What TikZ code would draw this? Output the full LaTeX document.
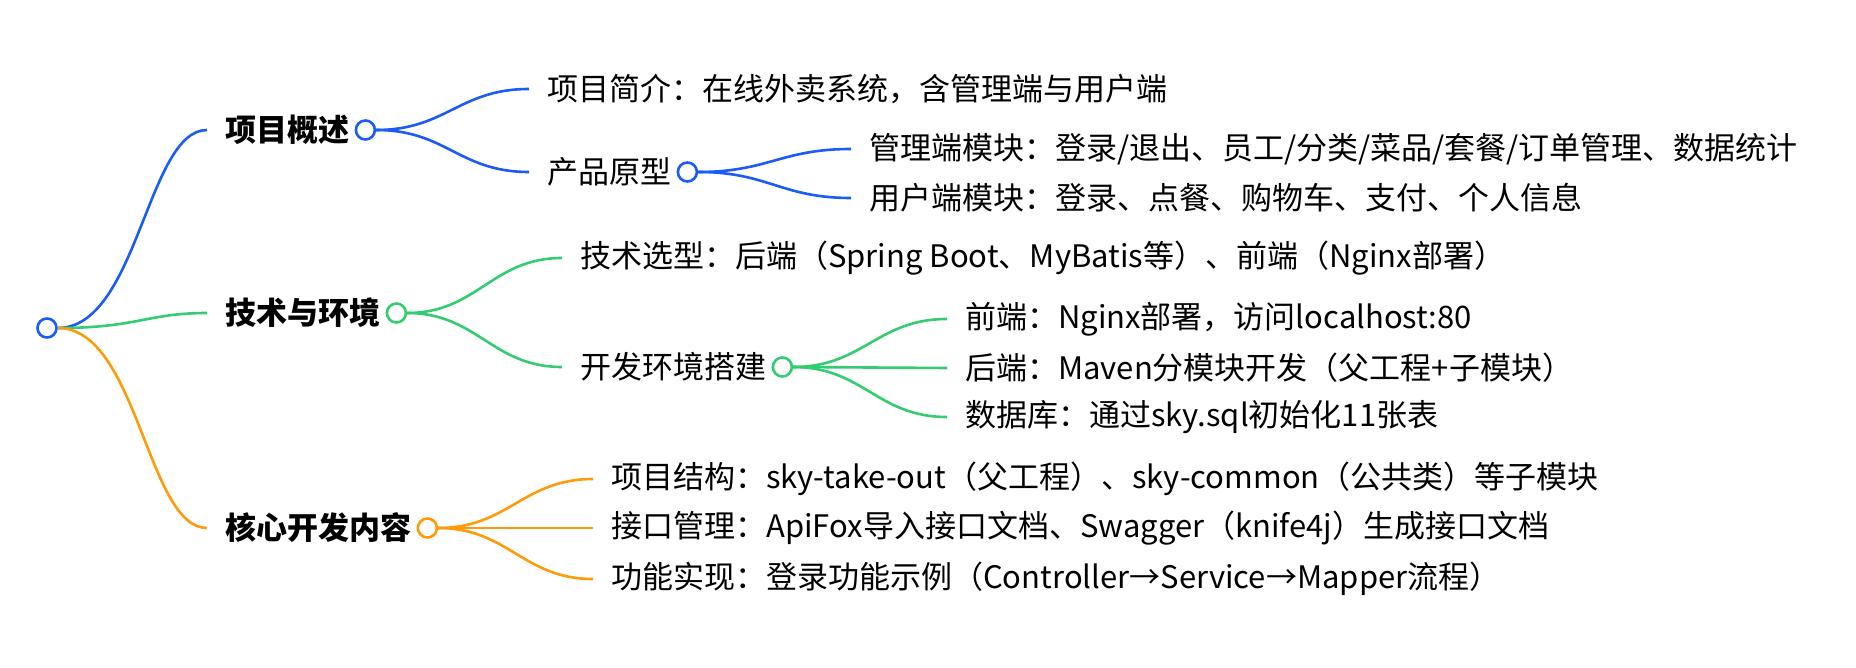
\documentclass[tikz,border=0pt]{standalone}
\usepackage{fontspec}
\setmainfont{Noto Sans CJK SC}
\begin{document}
\begin{tikzpicture}[x=1pt,y=-1pt,
  txt/.style={anchor=west,inner sep=0pt,font=\fontsize{31}{36}\selectfont},
  l1/.style={txt,font=\fontsize{31}{36}\selectfont\bfseries},
  dot/.style={circle,draw,line width=2.6pt,fill=white,minimum size=19pt,inner sep=0pt},
  br/.style={line width=2.6pt}]
\useasboundingbox (0,0) rectangle (1856,668);
\definecolor{cb}{HTML}{1A5CF5}
\definecolor{cg}{HTML}{33CC70}
\definecolor{co}{HTML}{FF9A0A}
% level 1
\node[l1] (a) at (225,130) {项目概述};
\node[l1] (b) at (225,313) {技术与环境};
\node[l1] (c) at (225,528) {核心开发内容};
% level 2
\node[txt] (a1) at (547,89) {项目简介：在线外卖系统，含管理端与用户端};
\node[txt] (a2) at (547,172) {产品原型};
\node[txt] (b1) at (580,258) {技术选型：后端（Spring Boot、MyBatis等）、前端（Nginx部署）};
\node[txt] (b2) at (580,367) {开发环境搭建};
\node[txt] (c1) at (611,479) {项目结构：sky-take-out（父工程）、sky-common（公共类）等子模块};
\node[txt] (c2) at (611,528) {接口管理：ApiFox导入接口文档、Swagger（knife4j）生成接口文档};
\node[txt] (c3) at (611,579) {功能实现：登录功能示例（Controller→Service→Mapper流程）};
% level 3
\node[txt] (a21) at (869,149) {管理端模块：登录/退出、员工/分类/菜品/套餐/订单管理、数据统计};
\node[txt] (a22) at (869,198) {用户端模块：登录、点餐、购物车、支付、个人信息};
\node[txt] (b21) at (965,319) {前端：Nginx部署，访问localhost:80};
\node[txt] (b22) at (965,368) {后端：Maven分模块开发（父工程+子模块）};
\node[txt] (b23) at (965,417) {数据库：通过sky.sql初始化11张表};
% connectors
\node[dot,draw=cb] (r) at (47,328) {};
\draw[br,cb] (r.east) .. controls +(80,0) and +(-60,0) .. ([xshift=-18]a.west);
\draw[br,cg] (r.east) .. controls +(80,0) and +(-60,0) .. ([xshift=-18]b.west);
\draw[br,co] (r.east) .. controls +(80,0) and +(-60,0) .. ([xshift=-18]c.west);
\node[dot,draw=cb] (ad) at ([xshift=16]a.east) {};
\node[dot,draw=cg] (bd) at ([xshift=16]b.east) {};
\node[dot,draw=co] (cd) at ([xshift=16]c.east) {};
\node[dot,draw=cb] (a2d) at ([xshift=16]a2.east) {};
\node[dot,draw=cg] (b2d) at ([xshift=16]b2.east) {};
\draw[br,cb] (ad.east) .. controls +(70,0) and +(-70,0) .. ([xshift=-18]a1.west);
\draw[br,cb] (ad.east) .. controls +(70,0) and +(-70,0) .. ([xshift=-18]a2.west);
\draw[br,cg] (bd.east) .. controls +(70,0) and +(-70,0) .. ([xshift=-18]b1.west);
\draw[br,cg] (bd.east) .. controls +(70,0) and +(-70,0) .. ([xshift=-18]b2.west);
\draw[br,co] (cd.east) .. controls +(70,0) and +(-70,0) .. ([xshift=-18]c1.west);
\draw[br,co] (cd.east) -- ([xshift=-18]c2.west);
\draw[br,co] (cd.east) .. controls +(70,0) and +(-70,0) .. ([xshift=-18]c3.west);
\draw[br,cb] (a2d.east) .. controls +(70,0) and +(-70,0) .. ([xshift=-18]a21.west);
\draw[br,cb] (a2d.east) .. controls +(70,0) and +(-70,0) .. ([xshift=-18]a22.west);
\draw[br,cg] (b2d.east) .. controls +(70,0) and +(-70,0) .. ([xshift=-18]b21.west);
\draw[br,cg] (b2d.east) -- ([xshift=-18]b22.west);
\draw[br,cg] (b2d.east) .. controls +(70,0) and +(-70,0) .. ([xshift=-18]b23.west);
\end{tikzpicture}
\end{document}
